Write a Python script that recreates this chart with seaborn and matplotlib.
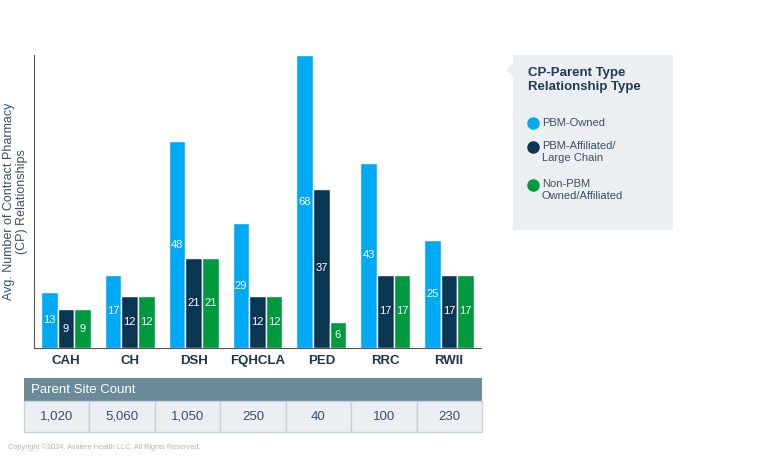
import pandas as pd
import matplotlib.pyplot as plt
import seaborn as sns
from matplotlib.patches import Rectangle, Polygon
from matplotlib.lines import Line2D

# data
parent_types = ['CAH', 'CH', 'DSH', 'FQHCLA', 'PED', 'RRC', 'RWII']
pbm_owned = [13, 17, 48, 29, 68, 43, 25]
pbm_affiliated = [9, 12, 21, 12, 37, 17, 17]
non_pbm = [9, 12, 21, 12, 6, 17, 17]
site_counts = ['1,020', '5,060', '1,050', '250', '40', '100', '230']
series_names = ['PBM-Owned', 'PBM-Affiliated/\nLarge Chain', 'Non-PBM\nOwned/Affiliated']
colors = ['#00a9f4', '#0a3553', '#009a3e']

rows = []
for name, vals in zip(series_names, [pbm_owned, pbm_affiliated, non_pbm]):
    for t, v in zip(parent_types, vals):
        rows.append({'type': t, 'value': v, 'series': name})
df = pd.DataFrame(rows)

sns.set_style('white')
plt.rcParams['font.family'] = ['Liberation Sans', 'DejaVu Sans']

W, H = 768, 461
fig = plt.figure(figsize=(W / 100, H / 100), dpi=100)


def fx(px):
    return px / W


def fy(py):
    return 1 - py / H


ax = fig.add_axes([fx(34), fy(348), fx(481) - fx(34), fy(55) - fy(348)])
sns.barplot(data=df, x='type', y='value', hue='series', palette=colors,
            width=0.78, saturation=1, ax=ax, legend=False)
for cont in ax.containers:
    ax.bar_label(cont, label_type='center', color='white', fontsize=8)

ax.set_ylim(0, 68)
ax.set_xlim(-0.5, 6.5)
ax.set_yticks([])
ax.set_xlabel('')
ax.set_ylabel('Avg. Number of Contract Pharmacy\n(CP) Relationships',
              color='#3b5068', fontsize=9, labelpad=4)
ax.tick_params(axis='x', length=0, pad=5)
for lab in ax.get_xticklabels():
    lab.set_fontweight('bold')
    lab.set_color('#1f3550')
    lab.set_fontsize(9.5)
sns.despine(ax=ax, top=True, right=True)
ax.spines['left'].set_color('#555555')
ax.spines['bottom'].set_color('#555555')

# legend panel
fig.add_artist(Rectangle((fx(513), fy(230)), fx(673) - fx(513), fy(55) - fy(230),
                         transform=fig.transFigure, facecolor='#eceff2', edgecolor='none'))
fig.add_artist(Polygon([(fx(513), fy(63)), (fx(506), fy(70)), (fx(513), fy(77))],
                       closed=True, transform=fig.transFigure, facecolor='#eceff2', edgecolor='none'))
fig.text(fx(528), fy(80), 'CP-Parent Type\nRelationship Type', fontsize=9.5, fontweight='bold',
         color='#1f3a55', va='center', ha='left', linespacing=1.15)
leg_y = [123, 152, 190]
for y, name, c in zip(leg_y, series_names, colors):
    fig.add_artist(Line2D([fx(533)], [fy(y if '\n' not in name else y - 5)], marker='o',
                          markersize=8, color=c, transform=fig.transFigure, linestyle='none'))
    fig.text(fx(542), fy(y), name, fontsize=8, color='#3b4f63', va='center', ha='left',
             linespacing=1.3)

# site count table
tx0, tx1 = 24, 482
fig.add_artist(Rectangle((fx(tx0), fy(401)), fx(tx1) - fx(tx0), fy(378) - fy(401),
                         transform=fig.transFigure, facecolor='#6b8a9a', edgecolor='none'))
fig.text(fx(31), fy(389.5), 'Parent Site Count', color='white', fontsize=9.5, va='center')
cw = (tx1 - tx0) / len(site_counts)
for i, s in enumerate(site_counts):
    x0 = tx0 + i * cw
    fig.add_artist(Rectangle((fx(x0), fy(432)), fx(cw), fy(401) - fy(432),
                             transform=fig.transFigure, facecolor='#eceff2',
                             edgecolor='#c5d3dc', linewidth=1))
    fig.text(fx(x0 + cw / 2), fy(416.5), s, color='#3b4f63', fontsize=9.5,
             ha='center', va='center')

fig.text(fx(8), fy(447), 'Copyright \u00a92024. Avalere Health LLC. All Rights Reserved.',
         color='#b5b5b5', fontsize=5.3, va='center')

fig.savefig('out.png', dpi=100)
